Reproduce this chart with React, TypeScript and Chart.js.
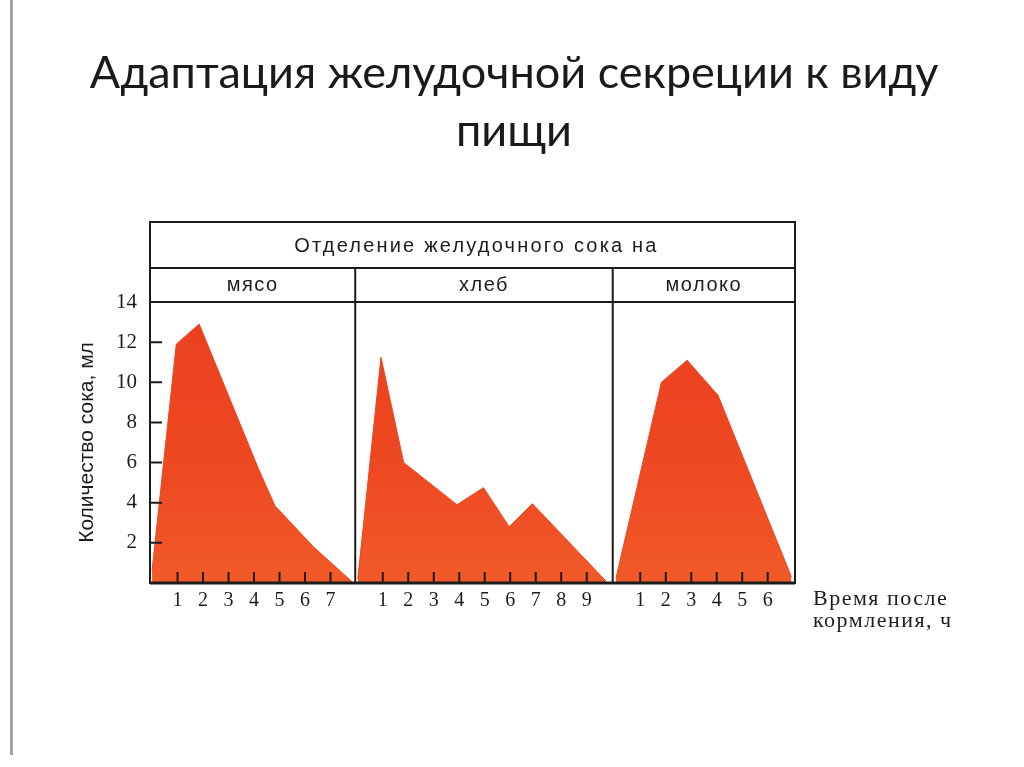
import { useEffect, useRef } from "react";
import { Chart, registerables } from "chart.js";

Chart.register(...registerables);

const titleLines = ["Адаптация желудочной секреции к виду", "пищи"];
const headerText = "Отделение желудочного сока на";
const foods = ["мясо", "хлеб", "молоко"];
const yLabel = "Количество сока, мл";
const xLabel = ["Время после", "кормления, ч"];

// length of each panel on the time axis (hours) and last labelled hour
const panelHours = [8.05, 10.1, 7.15];
const lastHour = [7, 9, 6];
const yTicks = [2, 4, 6, 8, 10, 12, 14];

// hours after feeding / juice, ml
const meatTime = [0, 0.95, 1.85, 4.17, 4.82, 6.33, 7.9];
const meatJuice = [0.6, 11.9, 12.9, 5.7, 3.85, 1.8, 0];
const breadTime = [0.02, 0.93, 1.82, 3.91, 4.95, 5.96, 6.87, 9.75];
const breadJuice = [0.2, 11.25, 6.0, 3.9, 4.75, 2.8, 3.95, 0.1];
const milkTime = [0.05, 1.83, 2.84, 4.05, 6.93];
const milkJuice = [0.25, 10.0, 11.1, 9.35, 0.3];

const LEAD = 0.08; // gap between panel edge and its 0 h
const ink = "#1c1c1c";
const serif = "'Liberation Serif', 'DejaVu Serif', serif";
const sans = "'Liberation Sans', Arial, sans-serif";

const panelStart = panelHours.map((_, i) =>
  panelHours.slice(0, i).reduce((a, b) => a + b, 0)
);
const totalHours = panelHours.reduce((a, b) => a + b, 0);
const boundaries = panelStart.slice(1);

const tickValues: number[] = [];
const tickLabels: string[] = [];
lastHour.forEach((n, p) => {
  for (let h = 1; h <= n; h++) {
    tickValues.push(panelStart[p] + LEAD + h);
    tickLabels.push(String(h));
  }
});

const series = [
  [meatTime, meatJuice],
  [breadTime, breadJuice],
  [milkTime, milkJuice],
];

const fillColor = (ctx: any) => {
  const area = ctx.chart.chartArea;
  if (!area) return "#ef4a23";
  const g = ctx.chart.ctx.createLinearGradient(0, area.top, 0, area.bottom);
  g.addColorStop(0, "#ea3f1f");
  g.addColorStop(0.6, "#ee4922");
  g.addColorStop(1, "#f25a29");
  return g;
};

const framePlugin = {
  id: "frame",
  afterDatasetsDraw(chart: any) {
    const { ctx, chartArea, scales } = chart;
    const { left, right, top, bottom } = chartArea;
    const { x, y } = scales;
    const headTop = top - 80;
    const rowTop = top - 34;
    ctx.save();
    ctx.strokeStyle = ink;
    ctx.lineWidth = 2;

    // inner tick marks
    ctx.beginPath();
    tickValues.forEach((v) => {
      const px = x.getPixelForValue(v);
      ctx.moveTo(px, bottom);
      ctx.lineTo(px, bottom - 11);
    });
    yTicks.forEach((v) => {
      const py = y.getPixelForValue(v);
      ctx.moveTo(left, py);
      ctx.lineTo(left + 12, py);
    });
    ctx.stroke();

    // table frame
    ctx.beginPath();
    ctx.rect(left, headTop, right - left, bottom - headTop);
    ctx.moveTo(left, rowTop);
    ctx.lineTo(right, rowTop);
    ctx.moveTo(left, top);
    ctx.lineTo(right, top);
    boundaries.forEach((b) => {
      const px = x.getPixelForValue(b);
      ctx.moveTo(px, rowTop);
      ctx.lineTo(px, bottom);
    });
    ctx.stroke();
    ctx.lineWidth = 3;
    ctx.beginPath();
    ctx.moveTo(left, bottom);
    ctx.lineTo(right, bottom);
    ctx.stroke();

    // header texts
    ctx.fillStyle = ink;
    ctx.textAlign = "center";
    ctx.textBaseline = "middle";
    ctx.font = `20px ${sans}`;
    ctx.letterSpacing = "2.2px";
    ctx.fillText(headerText, (left + right) / 2 + 4, headTop + 24);
    ctx.letterSpacing = "1.5px";
    const edges = [0, ...boundaries, totalHours].map((v) => x.getPixelForValue(v));
    foods.forEach((f, i) => {
      ctx.fillText(f, (edges[i] + edges[i + 1]) / 2, rowTop + 17);
    });

    // time label
    ctx.textAlign = "left";
    ctx.textBaseline = "alphabetic";
    ctx.font = `22px ${serif}`;
    ctx.letterSpacing = "1.5px";
    ctx.fillText(xLabel[0], right + 18, bottom + 22);
    ctx.fillText(xLabel[1], right + 18, bottom + 44);

    // slide title
    ctx.letterSpacing = "0px";
    ctx.textAlign = "center";
    ctx.font = `45px Lato, 'Open Sans', sans-serif`;
    ctx.fillStyle = "#1a1a1a";
    ctx.fillText(titleLines[0], chart.width / 2 + 2, 88);
    ctx.fillText(titleLines[1], chart.width / 2 + 2, 146);
    ctx.restore();
  },
};

export default function App() {
  const canvasRef = useRef<HTMLCanvasElement | null>(null);

  useEffect(() => {
    if (!canvasRef.current) return;

    const chart = new Chart(canvasRef.current, {
      type: "line",
      data: {
        datasets: series.map(([times, juice], p) => ({
          label: foods[p],
          data: times.map((t, i) => ({ x: panelStart[p] + LEAD + t, y: juice[i] })),
          fill: "origin",
          backgroundColor: fillColor,
          borderColor: "#ec4420",
          borderWidth: 1,
          pointRadius: 0,
          tension: 0,
        })),
      },
      options: {
        responsive: false,
        animation: false,
        layout: { padding: { left: 68, right: 229, top: 302, bottom: 144 } },
        plugins: {
          legend: { display: false },
          tooltip: { enabled: false },
          title: { display: false },
        },
        scales: {
          x: {
            type: "linear",
            min: 0,
            max: totalHours,
            grid: { display: false, drawTicks: false },
            border: { display: false },
            afterBuildTicks: (axis: any) => {
              axis.ticks = tickValues.map((value) => ({ value }));
            },
            afterFit: (axis: any) => {
              axis.height = 40;
            },
            ticks: {
              autoSkip: false,
              maxRotation: 0,
              padding: 6,
              color: ink,
              font: { family: serif, size: 20 },
              callback: (_v: any, i: number) => tickLabels[i],
            },
          },
          y: {
            min: 0,
            max: 14,
            grid: { display: false, drawTicks: false },
            border: { display: false },
            afterBuildTicks: (axis: any) => {
              axis.ticks = yTicks.map((value) => ({ value }));
            },
            afterFit: (axis: any) => {
              axis.width = 82;
            },
            ticks: {
              padding: 13,
              color: ink,
              font: { family: serif, size: 21, lineHeight: 1.05 },
            },
            title: {
              display: true,
              text: yLabel,
              color: ink,
              font: { family: sans, size: 21 },
              padding: { top: 7, bottom: 0 },
            },
          },
        },
      },
      plugins: [framePlugin],
    });

    return () => chart.destroy();
  }, []);

  return (
    <div
      style={{
        position: "absolute",
        left: 0,
        top: 0,
        width: 1024,
        height: 767,
        background: "#fff",
      }}
    >
      <div
        style={{
          position: "absolute",
          left: 10,
          top: 0,
          width: 3,
          height: 755,
          background: "#a3a3a3",
        }}
      />
      <canvas
        ref={canvasRef}
        width={1024}
        height={767}
        style={{ position: "absolute", left: 0, top: 0 }}
      />
    </div>
  );
}
